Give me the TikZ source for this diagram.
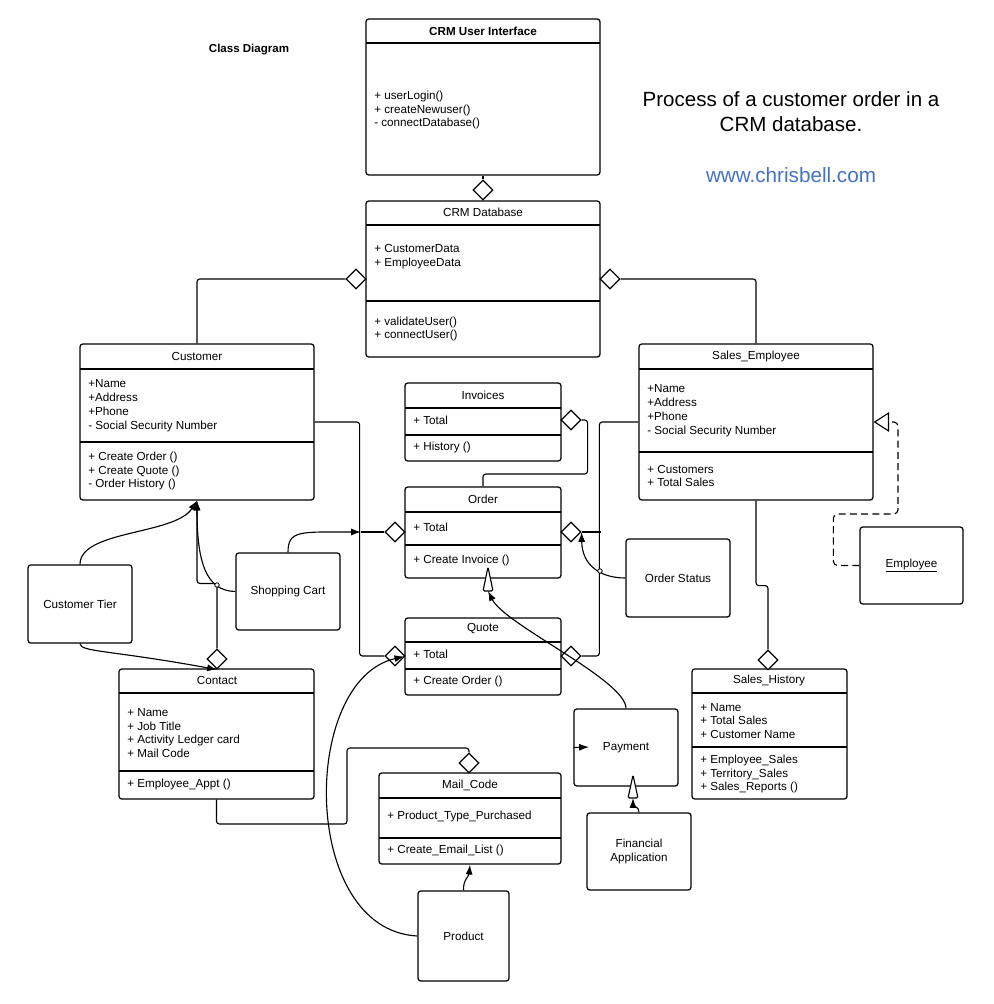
\documentclass[tikz,border=0pt]{standalone}
\usepackage{fontspec}
\setmainfont{Liberation Sans}
\usetikzlibrary{shapes.geometric,arrows.meta}
\definecolor{linkblue}{RGB}{68,114,196}
\newcommand{\pxu}{0.025cm}
\tikzset{
  cls/.style={draw, line width=0.9pt, rounded corners=2pt, inner sep=0pt},
  plain/.style={draw, line width=0.9pt, rounded corners=2pt, inner sep=0pt, align=center, font=\fontsize{8.3}{9.9}\selectfont},
  sep/.style={line width=0.9pt},
  agg/.style={draw, diamond, fill=white, line width=0.8pt, inner sep=0pt, minimum width=20*\pxu, minimum height=20*\pxu},
  txt/.style={anchor=west, inner sep=0pt, align=left, font=\fontsize{8.3}{9.9}\selectfont},
  ttl/.style={inner sep=0pt, font=\fontsize{8.3}{9.9}\selectfont},
  link/.style={line width=0.8pt},
  arr/.style={-{Latex[length=7pt,width=5pt]}},
  hop/.style={line width=0.6pt, fill=white}
}

\begin{document}
\begin{tikzpicture}[x=0.025cm, y=-0.025cm]
\useasboundingbox (0,0) rectangle (993,1004);
\fill[white] (0,0) rectangle (993,1004);

\node[inner sep=0pt, font=\bfseries\fontsize{8.2}{10}\selectfont] (diag) at (249,50) {Class Diagram};
\node[inner sep=0pt, align=center, font=\fontsize{14.6}{17.7}\selectfont] (heading) at (791,112) {Process of a customer order in a\\CRM database.};
\node[inner sep=0pt, text=linkblue, font=\fontsize{14.7}{17}\selectfont] (site) at (791,175) {www.chrisbell.com};

\node[cls, minimum width=234*\pxu, minimum height=156*\pxu] (crmui) at (483,97) {};
\draw[sep] (366,43) -- (600,43);
\node[ttl] (uititle) at (483,31) {\bfseries CRM User Interface};
\node[txt] (uiops) at (374,110) {+ userLogin()\\+ createNewuser()\\- connectDatabase()};

\node[cls, minimum width=234*\pxu, minimum height=156*\pxu] (crmdb) at (483,279) {};
\draw[sep] (366,225) -- (600,225);
\draw[sep] (366,301) -- (600,301);
\node[ttl] (dbtitle) at (483,212) {CRM Database};
\node[txt] (dbattr) at (374,257) {+ CustomerData\\+ EmployeeData};
\node[txt] (dbops) at (374,329) {+ validateUser()\\+ connectUser()};

\node[cls, minimum width=234*\pxu, minimum height=156*\pxu] (cust) at (197,422) {};
\draw[sep] (80,369) -- (314,369);
\draw[sep] (80,442) -- (314,442);
\node[ttl] (custtitle) at (197,356) {Customer};
\node[txt] (custattr) at (88,406) {+Name\\+Address\\+Phone\\- Social Security Number};
\node[txt] (custops) at (88,471) {+ Create Order ()\\+ Create Quote ()\\- Order History ()};

\node[cls, minimum width=234*\pxu, minimum height=156*\pxu] (salesemp) at (756,422) {};
\draw[sep] (639,369) -- (873,369);
\draw[sep] (639,452) -- (873,452);
\node[ttl] (semptitle) at (756,356) {Sales\_Employee};
\node[txt] (sempattr) at (647,411) {+Name\\+Address\\+Phone\\- Social Security Number};
\node[txt] (sempops) at (647,476) {+ Customers\\+ Total Sales};

\node[cls, minimum width=156*\pxu, minimum height=78*\pxu] (inv) at (483,422) {};
\draw[sep] (405,408) -- (561,408);
\draw[sep] (405,435) -- (561,435);
\node[ttl] (invtitle) at (483,395) {Invoices};
\node[txt] (invattr) at (413,420) {+ Total};
\node[txt] (invops) at (413,447) {+ History ()};

\node[cls, minimum width=156*\pxu, minimum height=91*\pxu] (order) at (483,532.5) {};
\draw[sep] (405,512) -- (561,512);
\draw[sep] (405,545) -- (561,545);
\node[ttl] (ordtitle) at (483,499) {Order};
\node[txt] (ordattr) at (413,527) {+ Total};
\node[txt] (ordops) at (413,560) {+ Create Invoice ()};

\node[cls, minimum width=156*\pxu, minimum height=77*\pxu] (quote) at (483,656.5) {};
\draw[sep] (405,642) -- (561,642);
\draw[sep] (405,669) -- (561,669);
\node[ttl] (quotitle) at (483,629) {Quote};
\node[txt] (quoattr) at (413,654) {+ Total};
\node[txt] (quoops) at (413,681) {+ Create Order ()};

\node[cls, minimum width=195*\pxu, minimum height=130*\pxu] (contact) at (216.5,734) {};
\draw[sep] (119,693) -- (314,693);
\draw[sep] (119,771) -- (314,771);
\node[ttl] (contitle) at (217,680) {Contact};
\node[txt] (conattr) at (127,733) {+ Name\\+ Job Title\\+ Activity Ledger card\\+ Mail Code};
\node[txt] (conops) at (127,784) {+ Employee\_Appt ()};

\node[cls, minimum width=182*\pxu, minimum height=91*\pxu] (mailcode) at (470,818.5) {};
\draw[sep] (379,798) -- (561,798);
\draw[sep] (379,838) -- (561,838);
\node[ttl] (mailtitle) at (470,785) {Mail\_Code};
\node[txt] (mailattr) at (387,816) {+ Product\_Type\_Purchased};
\node[txt] (mailops) at (387,850) {+ Create\_Email\_List ()};

\node[cls, minimum width=155*\pxu, minimum height=130*\pxu] (saleshist) at (769.5,734) {};
\draw[sep] (692,693) -- (847,693);
\draw[sep] (692,747) -- (847,747);
\node[ttl] (shtitle) at (769,680) {Sales\_History};
\node[txt] (shattr) at (700,721) {+ Name\\+ Total Sales\\+ Customer Name};
\node[txt] (shops) at (700,774) {+ Employee\_Sales\\+ Territory\_Sales\\+ Sales\_Reports ()};

\node[plain, minimum width=104*\pxu, minimum height=78*\pxu] (tier) at (80,604) {Customer Tier};
\node[plain, minimum width=104*\pxu, minimum height=77*\pxu] (cart) at (288,591.5) {Shopping Cart};
\node[plain, minimum width=104*\pxu, minimum height=78*\pxu] (ostatus) at (678,578) {Order Status};
\node[plain, minimum width=103*\pxu, minimum height=77*\pxu] (employee) at (911.5,565.5) {\underline{Employee}};
\node[plain, minimum width=104*\pxu, minimum height=77*\pxu] (payment) at (626,747.5) {Payment};
\node[plain, minimum width=104*\pxu, minimum height=77*\pxu] (finapp) at (639,851.5) {Financial\\Application};
\node[plain, minimum width=91*\pxu, minimum height=90*\pxu] (product) at (463.5,936) {Product};

\node[agg] (dUI) at (483,190) {};
\node[agg] (dDBl) at (356,279) {};
\node[agg] (dDBr) at (610,279) {};
\node[agg] (dInv) at (571,420) {};
\node[agg] (dOrdL) at (395,532) {};
\node[agg] (dOrdR) at (571,532) {};
\node[agg] (dQuoL) at (395,656) {};
\node[agg] (dQuoR) at (571,656) {};
\node[agg] (dCon) at (217,659) {};
\node[agg] (dMail) at (469,763) {};
\node[agg] (dSH) at (768,660) {};

\draw[link] (crmui.south) -- (dUI.north);
\draw[link, rounded corners=2pt] (dDBl.west) -| (cust.north);
\draw[link, rounded corners=2pt] (dDBr.east) -| (salesemp.north);

\draw[link, rounded corners=2pt] (cust.east) -- ++(45,0) |- (dQuoL.west);
\draw[link, rounded corners=2pt] (salesemp.west) -- ++(-39,0) |- (dQuoR.east);
\draw[link] (dOrdR.east) -- ++(19,0);
\draw[link, rounded corners=2pt] (dInv.east) -- ++(6,0) -- ++(0,54) -| (order.north);

\coordinate (cartin) at (361,532);
\draw[link, arr] (cart.north) .. controls (288,530) and (300,532) .. (cartin);
\draw[link] (cartin) -- (dOrdL.west);
\draw[link, arr] (ostatus.west) .. controls (600,578) and (582,565) .. (dOrdR.east);
\draw[hop] (600,571) circle[radius=1.6pt];

\draw[link, dashed, dash pattern=on 5pt off 3pt, rounded corners=3pt, -{Triangle[open, length=11pt, width=14pt]}] (employee.west) -- ++(-26,0) |- (898,514) |- (salesemp.east);
\draw[link, rounded corners=2pt] (salesemp.south) -- ++(0,85) -| (dSH.north);

\draw[link, arr] (tier.north) .. controls (80,530) and (175,535) .. (cust.south);
\draw[link, arr] (tier.south) .. controls (80,652) and (110,650) .. (dCon.south);
\draw[link, arr, rounded corners=2pt] (dCon.north) -- ++(0,-65) -| (cust.south);
\draw[link, arr] (cart.west) .. controls (205,591) and (197,560) .. (cust.south);
\draw[hop] (217,585) circle[radius=1.6pt];

\draw[link, rounded corners=2pt] (contact.south) |- (347,824) |- (469,748) -- (dMail.north);
\draw[link, arr] (product.west) .. controls (300,930) and (300,680) .. (quote.west);
\draw[link, arr] (product.north) .. controls (463,880) and (469,876) .. (mailcode.south);

\coordinate (ordtip) at (488,591);
\draw[link, arr] (payment.north) .. controls (626,680) and (505,625) .. (ordtip);
\draw[link, fill=white, rounded corners=1pt] (ordtip) -- ++(-5,0) -- ++(5,-24) -- ++(5,24) -- cycle;

\coordinate (paytip) at (633,798);
\draw[link, arr] (finapp.north) .. controls (639,806) and (633,806) .. (paytip);
\draw[link, fill=white, rounded corners=1pt] (paytip) -- ++(-5,0) -- ++(5,-23) -- ++(5,23) -- cycle;

\coordinate (payin) at (589,747);
\draw[link, arr] (payment.west) -- (payin);
\end{tikzpicture}
\end{document}
